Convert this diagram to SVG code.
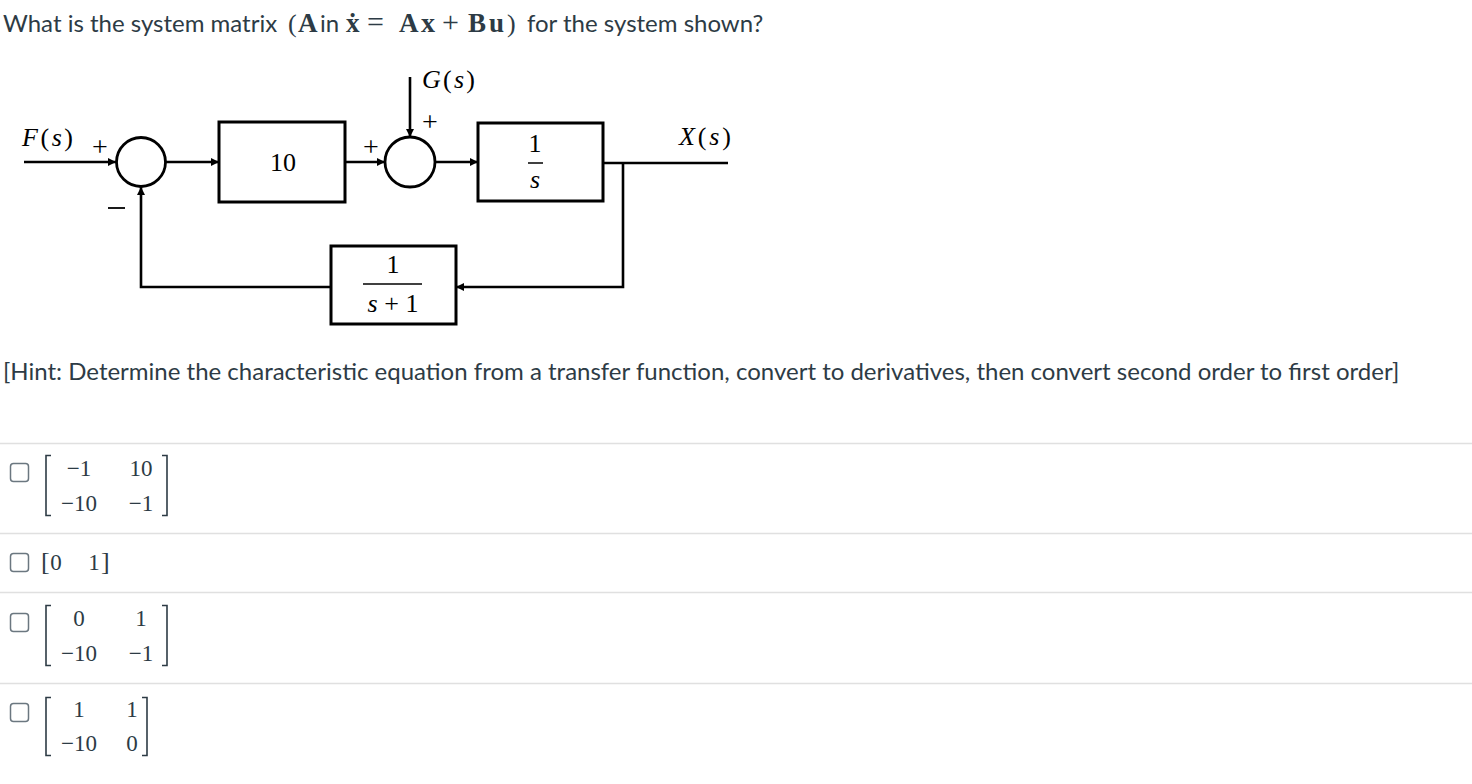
<svg xmlns="http://www.w3.org/2000/svg" width="1472" height="784" viewBox="0 0 1472 784">
<style>
.q{font-family:Lato,"Open Sans",sans-serif;font-size:24px;fill:#2d3b45}
.m{font-family:"Liberation Serif","DejaVu Serif",serif;fill:#2d3b45}
.mb{font-family:"Liberation Serif","DejaVu Serif",serif;font-weight:bold;fill:#2d3b45}
.d{font-family:"Liberation Serif","DejaVu Serif",serif;font-size:26px;fill:#000}
.pl{font-family:"Liberation Serif","DejaVu Serif",serif;font-size:28px;fill:#000;text-anchor:middle}
.di{font-family:"Liberation Serif","DejaVu Serif",serif;font-style:italic;font-size:26px;fill:#000}
.blk{fill:#fff;stroke:#000;stroke-width:3}
.sum{fill:#fff;stroke:#000;stroke-width:2.8}
.ln{fill:none;stroke:#000;stroke-width:2.6}
.sep{stroke:#e0e0e0;stroke-width:1.5}
.cb{fill:#fff;stroke:#6b7780;stroke-width:1.5}
.br{fill:none;stroke:#2d3b45;stroke-width:1.6}
.mt{font-family:"Liberation Serif","DejaVu Serif",serif;font-size:23px;fill:#2d3b45;text-anchor:middle}
</style>
<defs>
<marker id="ah" viewBox="0 0 10 10" refX="10" refY="5" markerWidth="9" markerHeight="8" markerUnits="userSpaceOnUse" orient="auto">
<path d="M0,0 L10,5 L0,10 z" fill="#000"/>
</marker>
</defs>

<g id="title">
<text class="q" y="32"><tspan x="3">What is the system matrix</tspan><tspan class="m" x="288" font-size="26">(</tspan><tspan class="mb" x="298" font-size="27">A</tspan><tspan x="320">in</tspan><tspan class="mb" x="346" font-size="27">ẋ</tspan><tspan class="m" x="367" font-size="30">=</tspan><tspan class="mb" x="399" font-size="27">A</tspan><tspan class="mb" x="421" font-size="28">x</tspan><tspan class="m" x="442" font-size="30">+</tspan><tspan class="mb" x="468" font-size="27">B</tspan><tspan class="mb" x="489" font-size="27">u</tspan><tspan class="m" x="507" font-size="26">)</tspan><tspan x="527">for the system shown?</tspan></text>
</g>

<g id="connectors">
<line class="ln" x1="24" y1="162" x2="116" y2="162" marker-end="url(#ah)"/>
<line class="ln" x1="166" y1="162" x2="219" y2="162" marker-end="url(#ah)"/>
<line class="ln" x1="345" y1="162" x2="385" y2="162" marker-end="url(#ah)"/>
<line class="ln" x1="410" y1="77" x2="410" y2="137" marker-end="url(#ah)"/>
<line class="ln" x1="435" y1="162" x2="478" y2="162" marker-end="url(#ah)"/>
<line class="ln" x1="603" y1="163" x2="728" y2="163"/>
<polyline class="ln" points="623,163 623,287 456,287" marker-end="url(#ah)"/>
<polyline class="ln" points="331,287 141,287 141,187" marker-end="url(#ah)"/>
</g>

<g id="label-F">
<text class="di" x="22" y="146" textLength="51" lengthAdjust="spacing">F<tspan font-style="normal">(</tspan>s<tspan font-style="normal">)</tspan></text>
</g>
<g id="label-G">
<text class="di" x="422" y="88" textLength="53" lengthAdjust="spacing">G<tspan font-style="normal">(</tspan>s<tspan font-style="normal">)</tspan></text>
</g>
<g id="label-X">
<text class="di" x="679" y="145" textLength="52" lengthAdjust="spacing">X<tspan font-style="normal">(</tspan>s<tspan font-style="normal">)</tspan></text>
</g>

<g id="sum1">
<circle class="sum" cx="141" cy="162" r="24.5"/>
<text class="pl" x="100" y="156">+</text>
<line x1="108" y1="208" x2="125" y2="208" stroke="#000" stroke-width="1.8"/>
</g>

<g id="gain10">
<rect class="blk" x="219" y="122" width="126" height="80"/>
<text class="d" x="283" y="171" text-anchor="middle" font-size="27">10</text>
</g>

<g id="sum2">
<circle class="sum" cx="410" cy="162" r="25"/>
<text class="pl" x="371" y="156">+</text>
<text class="pl" x="430" y="131">+</text>
</g>

<g id="integrator">
<rect class="blk" x="478" y="123" width="125" height="78"/>
<text class="d" x="535" y="152" text-anchor="middle">1</text>
<line x1="528" y1="163" x2="543" y2="163" stroke="#000" stroke-width="1.5"/>
<text class="di" x="535" y="188" text-anchor="middle" font-size="28">s</text>
</g>

<g id="feedback">
<rect class="blk" x="331" y="246" width="125" height="78"/>
<text class="d" x="393" y="273" text-anchor="middle">1</text>
<line x1="363" y1="284" x2="422" y2="284" stroke="#000" stroke-width="1.5"/>
<text class="d" x="393" y="312" text-anchor="middle" font-size="27"><tspan font-style="italic">s</tspan> + 1</text>
</g>

<g id="hint">
<text class="q" x="3" y="380">[Hint: Determine the characteristic equation from a transfer function, convert to derivatives, then convert second order to first order]</text>
</g>

<g id="separators">
<line class="sep" x1="0" y1="443.5" x2="1472" y2="443.5"/>
<line class="sep" x1="0" y1="533.5" x2="1472" y2="533.5"/>
<line class="sep" x1="0" y1="592.5" x2="1472" y2="592.5"/>
<line class="sep" x1="0" y1="683.5" x2="1472" y2="683.5"/>
</g>

<g id="option1">
<rect class="cb" x="10.5" y="463.5" width="18" height="18" rx="3"/>
<path class="br" d="M51,455.5 H46 V515.5 H51"/>
<path class="br" d="M162,455.5 H167 V515.5 H162"/>
<text class="mt" x="79" y="476">−1</text>
<text class="mt" x="141" y="476">10</text>
<text class="mt" x="79" y="511">−10</text>
<text class="mt" x="141" y="511">−1</text>
</g>

<g id="option2">
<rect class="cb" x="10.5" y="553.5" width="18" height="18" rx="3"/>
<text class="m" font-size="26" x="41" y="570">[</text>
<text class="mt" x="56" y="570">0</text>
<text class="mt" x="94" y="570">1</text>
<text class="m" font-size="26" x="101" y="570">]</text>
</g>

<g id="option3">
<rect class="cb" x="10.5" y="613.5" width="18" height="18" rx="3"/>
<path class="br" d="M51,605.5 H46 V665.5 H51"/>
<path class="br" d="M162,605.5 H167 V665.5 H162"/>
<text class="mt" x="79" y="626">0</text>
<text class="mt" x="141" y="626">1</text>
<text class="mt" x="79" y="661">−10</text>
<text class="mt" x="141" y="661">−1</text>
</g>

<g id="option4">
<rect class="cb" x="10.5" y="703.5" width="18" height="18" rx="3"/>
<path class="br" d="M51,697.5 H46 V755.5 H51"/>
<path class="br" d="M142,697.5 H147 V755.5 H142"/>
<text class="mt" x="79" y="717">1</text>
<text class="mt" x="132" y="717">1</text>
<text class="mt" x="79" y="751">−10</text>
<text class="mt" x="132" y="751">0</text>
</g>
</svg>
